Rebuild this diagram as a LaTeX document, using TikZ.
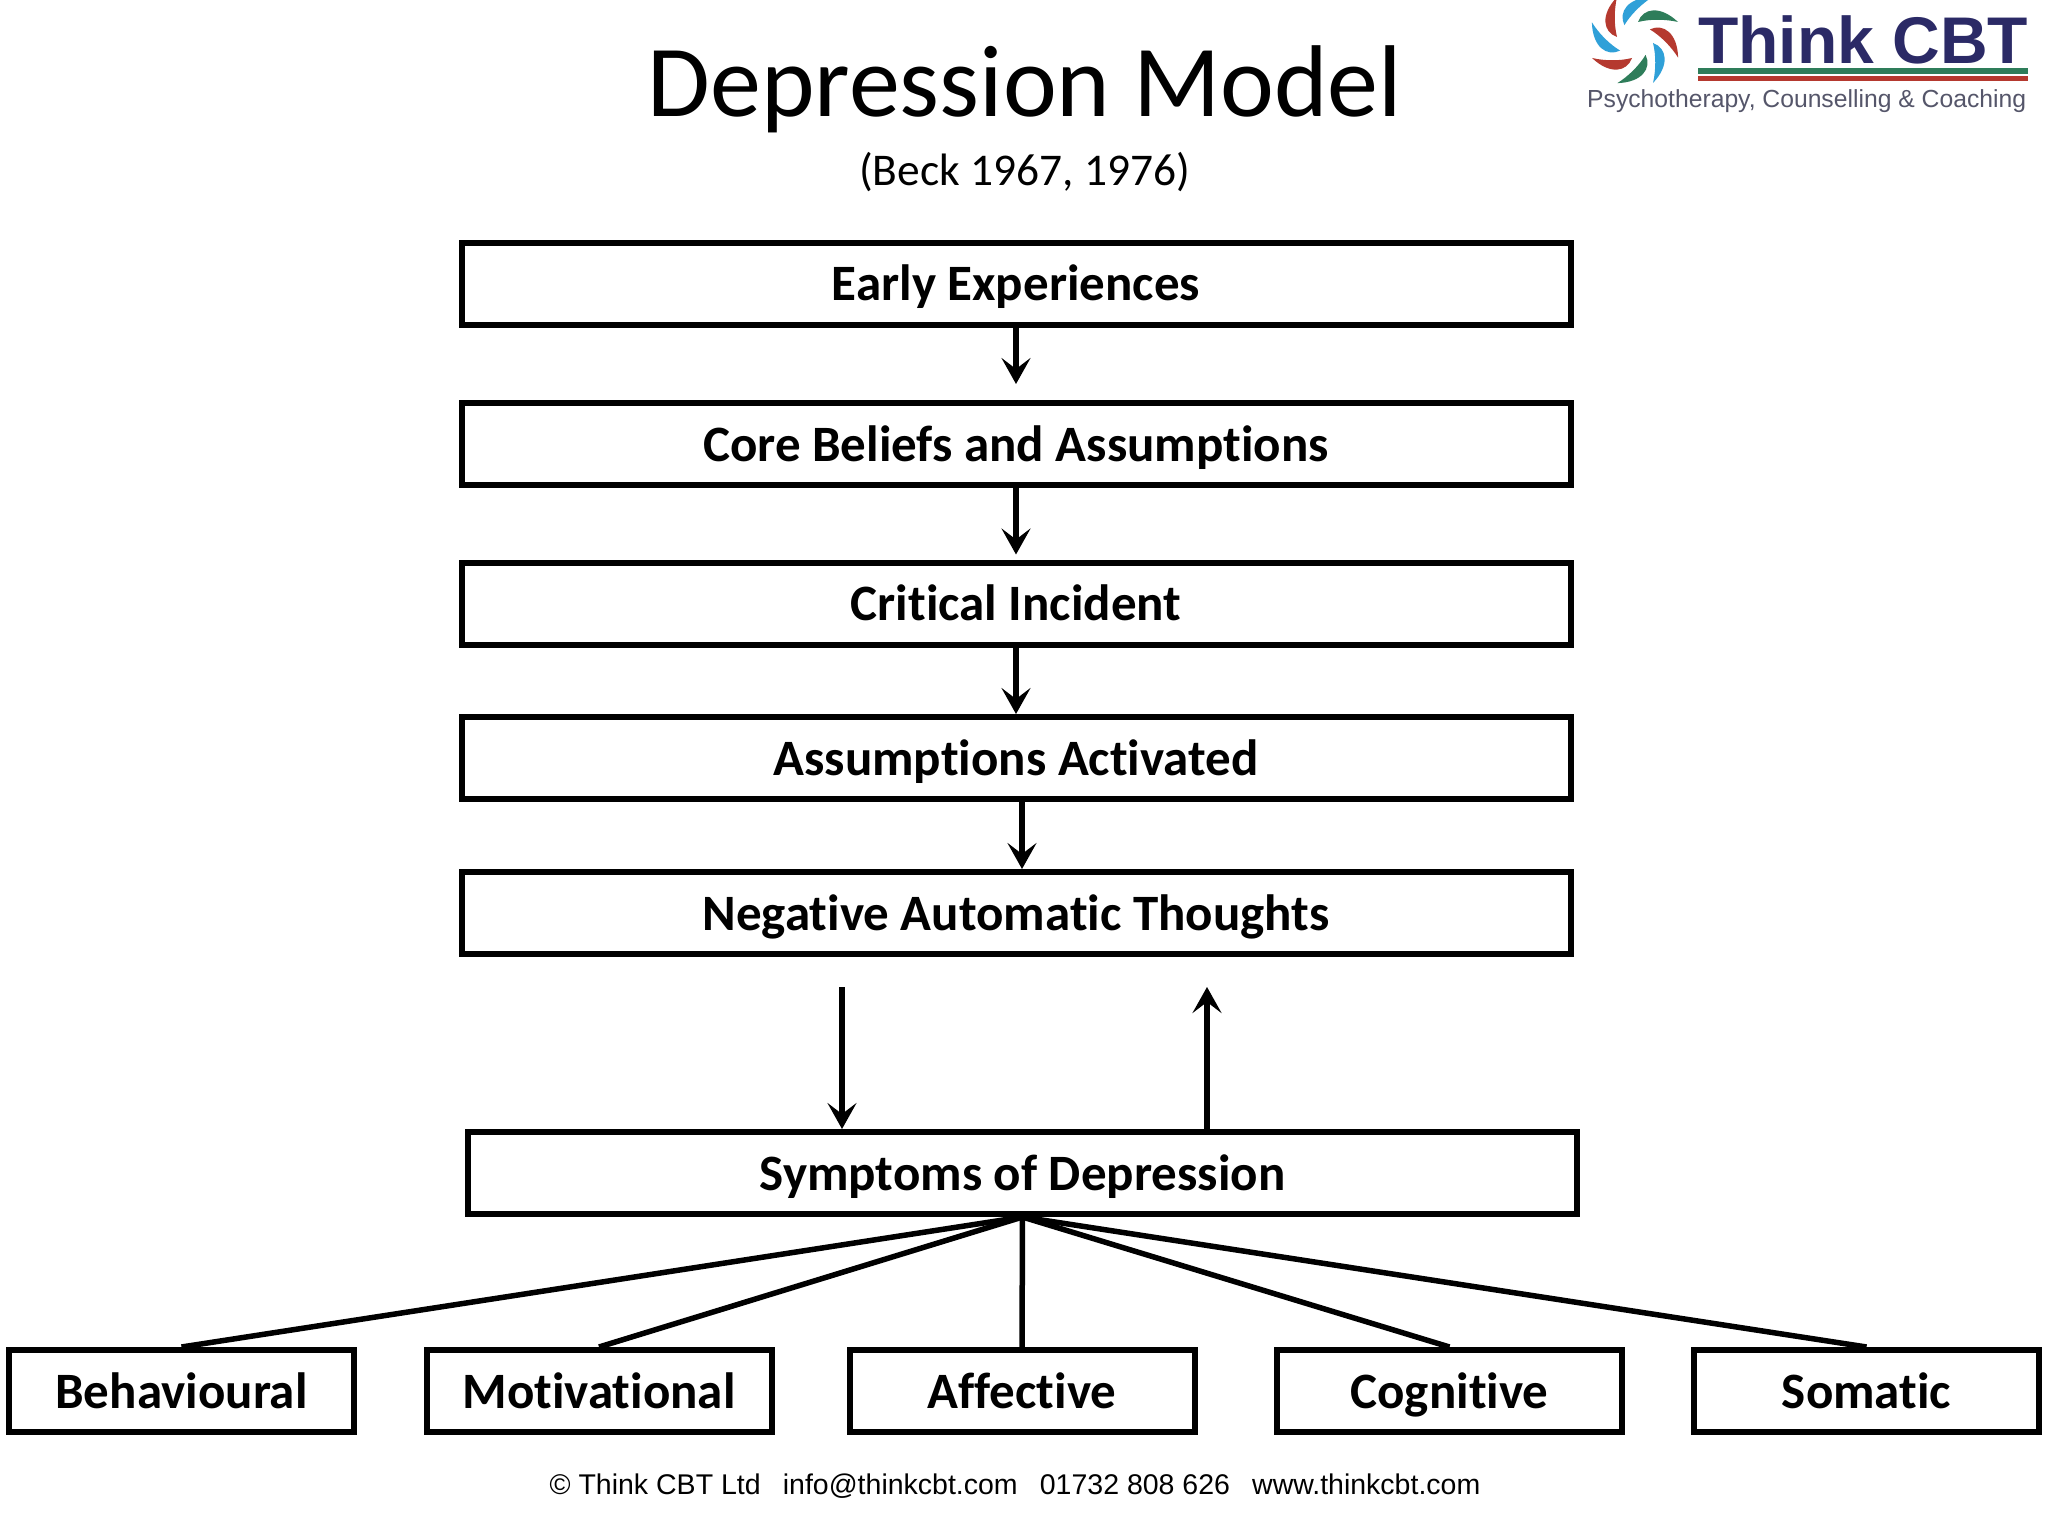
\documentclass[tikz,border=0pt]{standalone}
\usepackage{fontspec}
\setmainfont[Ligatures=NoCommon]{Carlito}
\newfontfamily\liberation{Liberation Sans}
\usetikzlibrary{arrows.meta}
\definecolor{navy}{HTML}{2B2A66}
\definecolor{lgreen}{HTML}{2E7D5A}
\definecolor{lred}{HTML}{B5392F}
\definecolor{lblue}{HTML}{2FA0D8}
\definecolor{lgray}{HTML}{55566A}
\tikzset{
  box/.style={draw=black,line width=6pt,fill=white,minimum height=82pt,inner sep=0pt,
    text height=34pt,text depth=0pt,font=\fontsize{51}{55}\selectfont\bfseries},
  wide/.style={box,minimum width=1109pt},
  small/.style={box,minimum width=345pt},
  arr/.style={line width=5.5pt,-{Stealth[length=26pt,width=29pt,inset=11pt]}},
  link/.style={line width=5.5pt},
  label/.style={inner sep=0pt,anchor=base}
}
\newcommand{\logoblade}[2]{%
  \fill[#2,shift={(1635,40)},rotate=#1]
    (3,-18) .. controls (8,-32) and (25,-35) .. (43,-18)
    .. controls (30,-21) and (15,-21) .. (3,-18) -- cycle;}
\begin{document}
\begin{tikzpicture}[x=1pt,y=-1pt]
\useasboundingbox (0,0) rectangle (2048,1536);
\clip (0,0) rectangle (2048,1536);
\fill[white] (0,0) rectangle (2048,1536);

\node[label] (title) at (1025,116.5) {\fontsize{102}{110}\selectfont Depression Model};
\node[label] (subtitle) at (1024.5,185) {\fontsize{45.4}{50}\selectfont (Beck 1967, 1976)};
\node[label] (footer) at (1015,1494) {\liberation\fontsize{28.5}{32}\selectfont © Think CBT Ltd\hspace{0.5em} info@thinkcbt.com\hspace{0.5em} 01732 808 626\hspace{0.5em} www.thinkcbt.com};

% logo
\logoblade{0}{lgreen}
\logoblade{-45}{lred}
\logoblade{-90}{lblue}
\logoblade{-135}{lgreen}
\logoblade{-180}{lred}
\logoblade{-225}{lblue}
\logoblade{-270}{lred}
\logoblade{-315}{lblue}
\node[label,anchor=base west,text=navy] (logotext) at (1698,63.5) {\liberation\bfseries\fontsize{66}{70}\selectfont Think CBT};
\fill[lgreen] (1698,68) rectangle (2028,74);
\fill[lred] (1698,76) rectangle (2028,81);
\node[label,anchor=base west,text=lgray] (logosub) at (1587,107.5) {\liberation\fontsize{24.7}{28}\selectfont Psychotherapy, Counselling \& Coaching};

% main boxes
\node[wide] (early) at (1016,283.5) {Early Experiences};
\node[wide] (core) at (1016,444) {Core Beliefs and Assumptions};
\node[wide] (critical) at (1016,603.5) {Critical Incident};
\node[wide] (activated) at (1016,758) {Assumptions Activated};
\node[wide] (nat) at (1016,913) {Negative Automatic Thoughts};
\node[wide] (symptoms) at (1022.5,1173) {Symptoms of Depression};

\node[small] (behavioural) at (181.5,1391) {Behavioural};
\node[small] (motivational) at (599,1391) {Motivational};
\node[small] (affective) at (1022,1391) {Affective};
\node[small] (cognitive) at (1449.5,1391) {Cognitive};
\node[small] (somatic) at (1866.5,1391) {Somatic};

% arrows
\draw[arr,shorten >=16pt] (early.south -| 1016,0) -- (core.north -| 1016,0);
\draw[arr,shorten >=5pt] (core.south -| 1016,0) -- (critical.north -| 1016,0);
\draw[arr] (critical.south -| 1016,0) -- (activated.north -| 1016,0);
\draw[arr] (activated.south -| 1022,0) -- (nat.north -| 1022,0);

\coordinate (downstart) at (842,987);
\coordinate (upend) at (1207,987);
\draw[arr] (downstart) -- (symptoms.north -| downstart);
\draw[arr] (symptoms.north -| upend) -- (upend);

% fan
\foreach \n in {behavioural,motivational,affective,cognitive,somatic}
  \draw[link] (symptoms.south) -- (\n.north);
\end{tikzpicture}
\end{document}
